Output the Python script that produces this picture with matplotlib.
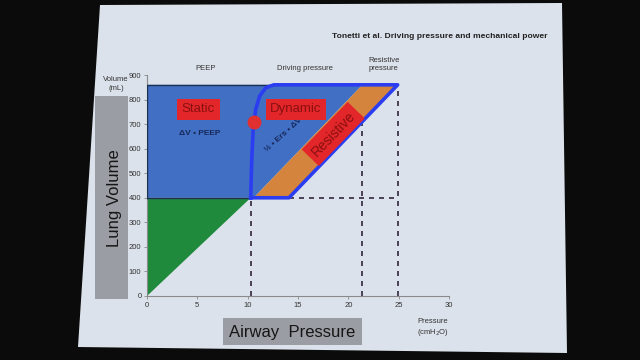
import numpy as np
import matplotlib.pyplot as plt
from matplotlib.patches import Polygon, Rectangle

plt.rcParams['font.family'] = ['Liberation Sans', 'DejaVu Sans']

# axis ticks
x_ticks = [0, 5, 10, 15, 20, 25, 30]
y_ticks = [0, 100, 200, 300, 400, 500, 600, 700, 800, 900]

# key pressures (cmH2O) and volumes (mL)
peep = 10.3
p_res_low = 10.6      # start of resistive band at end-expiration
p_res_high = 14.1
p_plat = 21.4
p_peak = 24.9
v_exp = 400
v_insp = 860

# static inflation curve
curve_p = [10.3, 10.4, 10.55, 10.8, 11.2, 11.8, 12.6]
curve_v = [400, 550, 680, 760, 815, 848, 860]

# red marker on the curve
dot_p, dot_v = 10.6, 710

W, H = 640, 360


def fx(px):
    return px / W


def fy(py):
    return 1 - py / H


fig = plt.figure(figsize=(6.4, 3.6), dpi=100, facecolor='#0b0b0b')

# the projected slide
slide = Polygon([(fx(100), fy(5)), (fx(562), fy(3)), (fx(567), fy(353)), (fx(78), fy(347))],
                closed=True, transform=fig.transFigure, fc='#dce2eb', ec='none', zorder=-2)
fig.patches.append(slide)

ax = fig.add_axes([fx(147), fy(296), (449 - 147) / W, (296 - 75) / H])
ax.set_zorder(1)
ax.set_facecolor('none')
ax.set_xlim(0, 30)
ax.set_ylim(0, 900)

# green: elastic energy of PEEP volume
ax.add_patch(Polygon([(0, 0), (peep, v_exp), (0, v_exp)], closed=True,
                     fc='#1f8a3c', ec='none', zorder=2))
# blue: static + dynamic
ax.add_patch(Polygon([(0, v_exp), (0, v_insp), (p_plat, v_insp), (p_res_low, v_exp)],
                     closed=True, fc='#406fc4', ec='none', zorder=2))
# orange: resistive band
ax.add_patch(Polygon([(p_res_low, v_exp), (p_res_high, v_exp), (p_peak, v_insp), (p_plat, v_insp)],
                     closed=True, fc='#d4843c', ec='none', zorder=2))

# thin borders of the static block
ax.plot([0, peep], [v_exp, v_exp], color='#1c3050', lw=1, zorder=3)
ax.plot([0, 0, curve_p[-1]], [v_exp, v_insp, v_insp], color='#1c3050', lw=1, zorder=3)

# dashed guides
dash = dict(color='#33263f', lw=1.2, ls=(0, (3, 3)), zorder=1)
ax.plot([peep, peep], [0, v_exp], **dash)
ax.plot([p_plat, p_plat], [0, v_insp], **dash)
ax.plot([p_peak, p_peak], [0, v_insp], **dash)
ax.plot([p_res_high, p_peak], [v_exp, v_exp], **dash)

# pressure-volume loop
loop_p = curve_p + [p_peak, p_res_high, peep]
loop_v = curve_v + [v_insp, v_exp, v_exp]
ax.plot(loop_p, loop_v, color='#2b3df0', lw=2.6, solid_joinstyle='round', zorder=4)
ax.plot([dot_p], [dot_v], 'o', color='#e0302f', ms=9, zorder=5)

red_box = dict(boxstyle='square,pad=0.35', fc='#e2262a', ec='none')
ax.text(5.1, 760, 'Static', color='#8a1010', fontsize=9.5, ha='center', va='center',
        bbox=red_box, zorder=6)
ax.text(14.8, 760, 'Dynamic', color='#8a1010', fontsize=9.5, ha='center', va='center',
        bbox=red_box, zorder=6)
ax.text(18.5, 660, 'Resistive', color='#8a1010', fontsize=10, ha='center', va='center',
        rotation=46, rotation_mode='anchor', bbox=red_box, zorder=6)
ax.text(5.2, 662, 'ΔV • PEEP', color='#17285a', fontsize=6, fontweight='bold',
        ha='center', va='center', zorder=6)
ax.text(13.7, 660, '½ • Ers • ΔV²', color='#17285a', fontsize=6, fontweight='bold',
        ha='center', va='center', rotation=42, rotation_mode='anchor', zorder=5)

# headers above the chart
ax.text(5.8, 925, 'PEEP', fontsize=5.5, color='#333', ha='center', va='center', clip_on=False)
ax.text(15.7, 925, 'Driving pressure', fontsize=5.5, color='#333', ha='center', va='center',
        clip_on=False)
ax.text(23.5, 942, 'Resistive\npressure', fontsize=5.5, color='#333', ha='center', va='center',
        linespacing=1.3, clip_on=False)

ax.set_xticks(x_ticks)
ax.set_yticks(y_ticks)
ax.tick_params(labelsize=5.5, labelcolor='#333', length=2, color='#888', width=0.6, pad=2)
for s in ['top', 'right']:
    ax.spines[s].set_visible(False)
for s in ['left', 'bottom']:
    ax.spines[s].set_color('#8a8a8a')
    ax.spines[s].set_linewidth(0.8)

# axis captions
fig.text(fx(116), fy(84), 'Volume\n(mL)', fontsize=5.5, color='#333', ha='center', va='center',
         linespacing=1.3)
fig.text(fx(433), fy(328), 'Pressure\n(cmH$_2$O)', fontsize=5.5, color='#333', ha='center',
         va='center', linespacing=1.3)

fig.patches.append(Rectangle((fx(95), fy(299)), (128 - 95) / W, (299 - 96) / H,
                             transform=fig.transFigure, fc='#9b9da4', ec='none', zorder=-1))
fig.text(fx(114), fy(198), 'Lung Volume', fontsize=12, color='#161616', rotation=90,
         ha='center', va='center')
fig.patches.append(Rectangle((fx(223), fy(345)), (362 - 223) / W, (345 - 318) / H,
                             transform=fig.transFigure, fc='#9b9da4', ec='none', zorder=-1))
fig.text(fx(292), fy(332), 'Airway  Pressure', fontsize=12, color='#161616',
         ha='center', va='center')

fig.text(fx(548), fy(37), 'Tonetti et al. Driving pressure and mechanical power', fontsize=6.1,
         fontweight='bold', color='#222', ha='right', va='center')

plt.savefig('out.png', dpi=100, facecolor=fig.get_facecolor())
